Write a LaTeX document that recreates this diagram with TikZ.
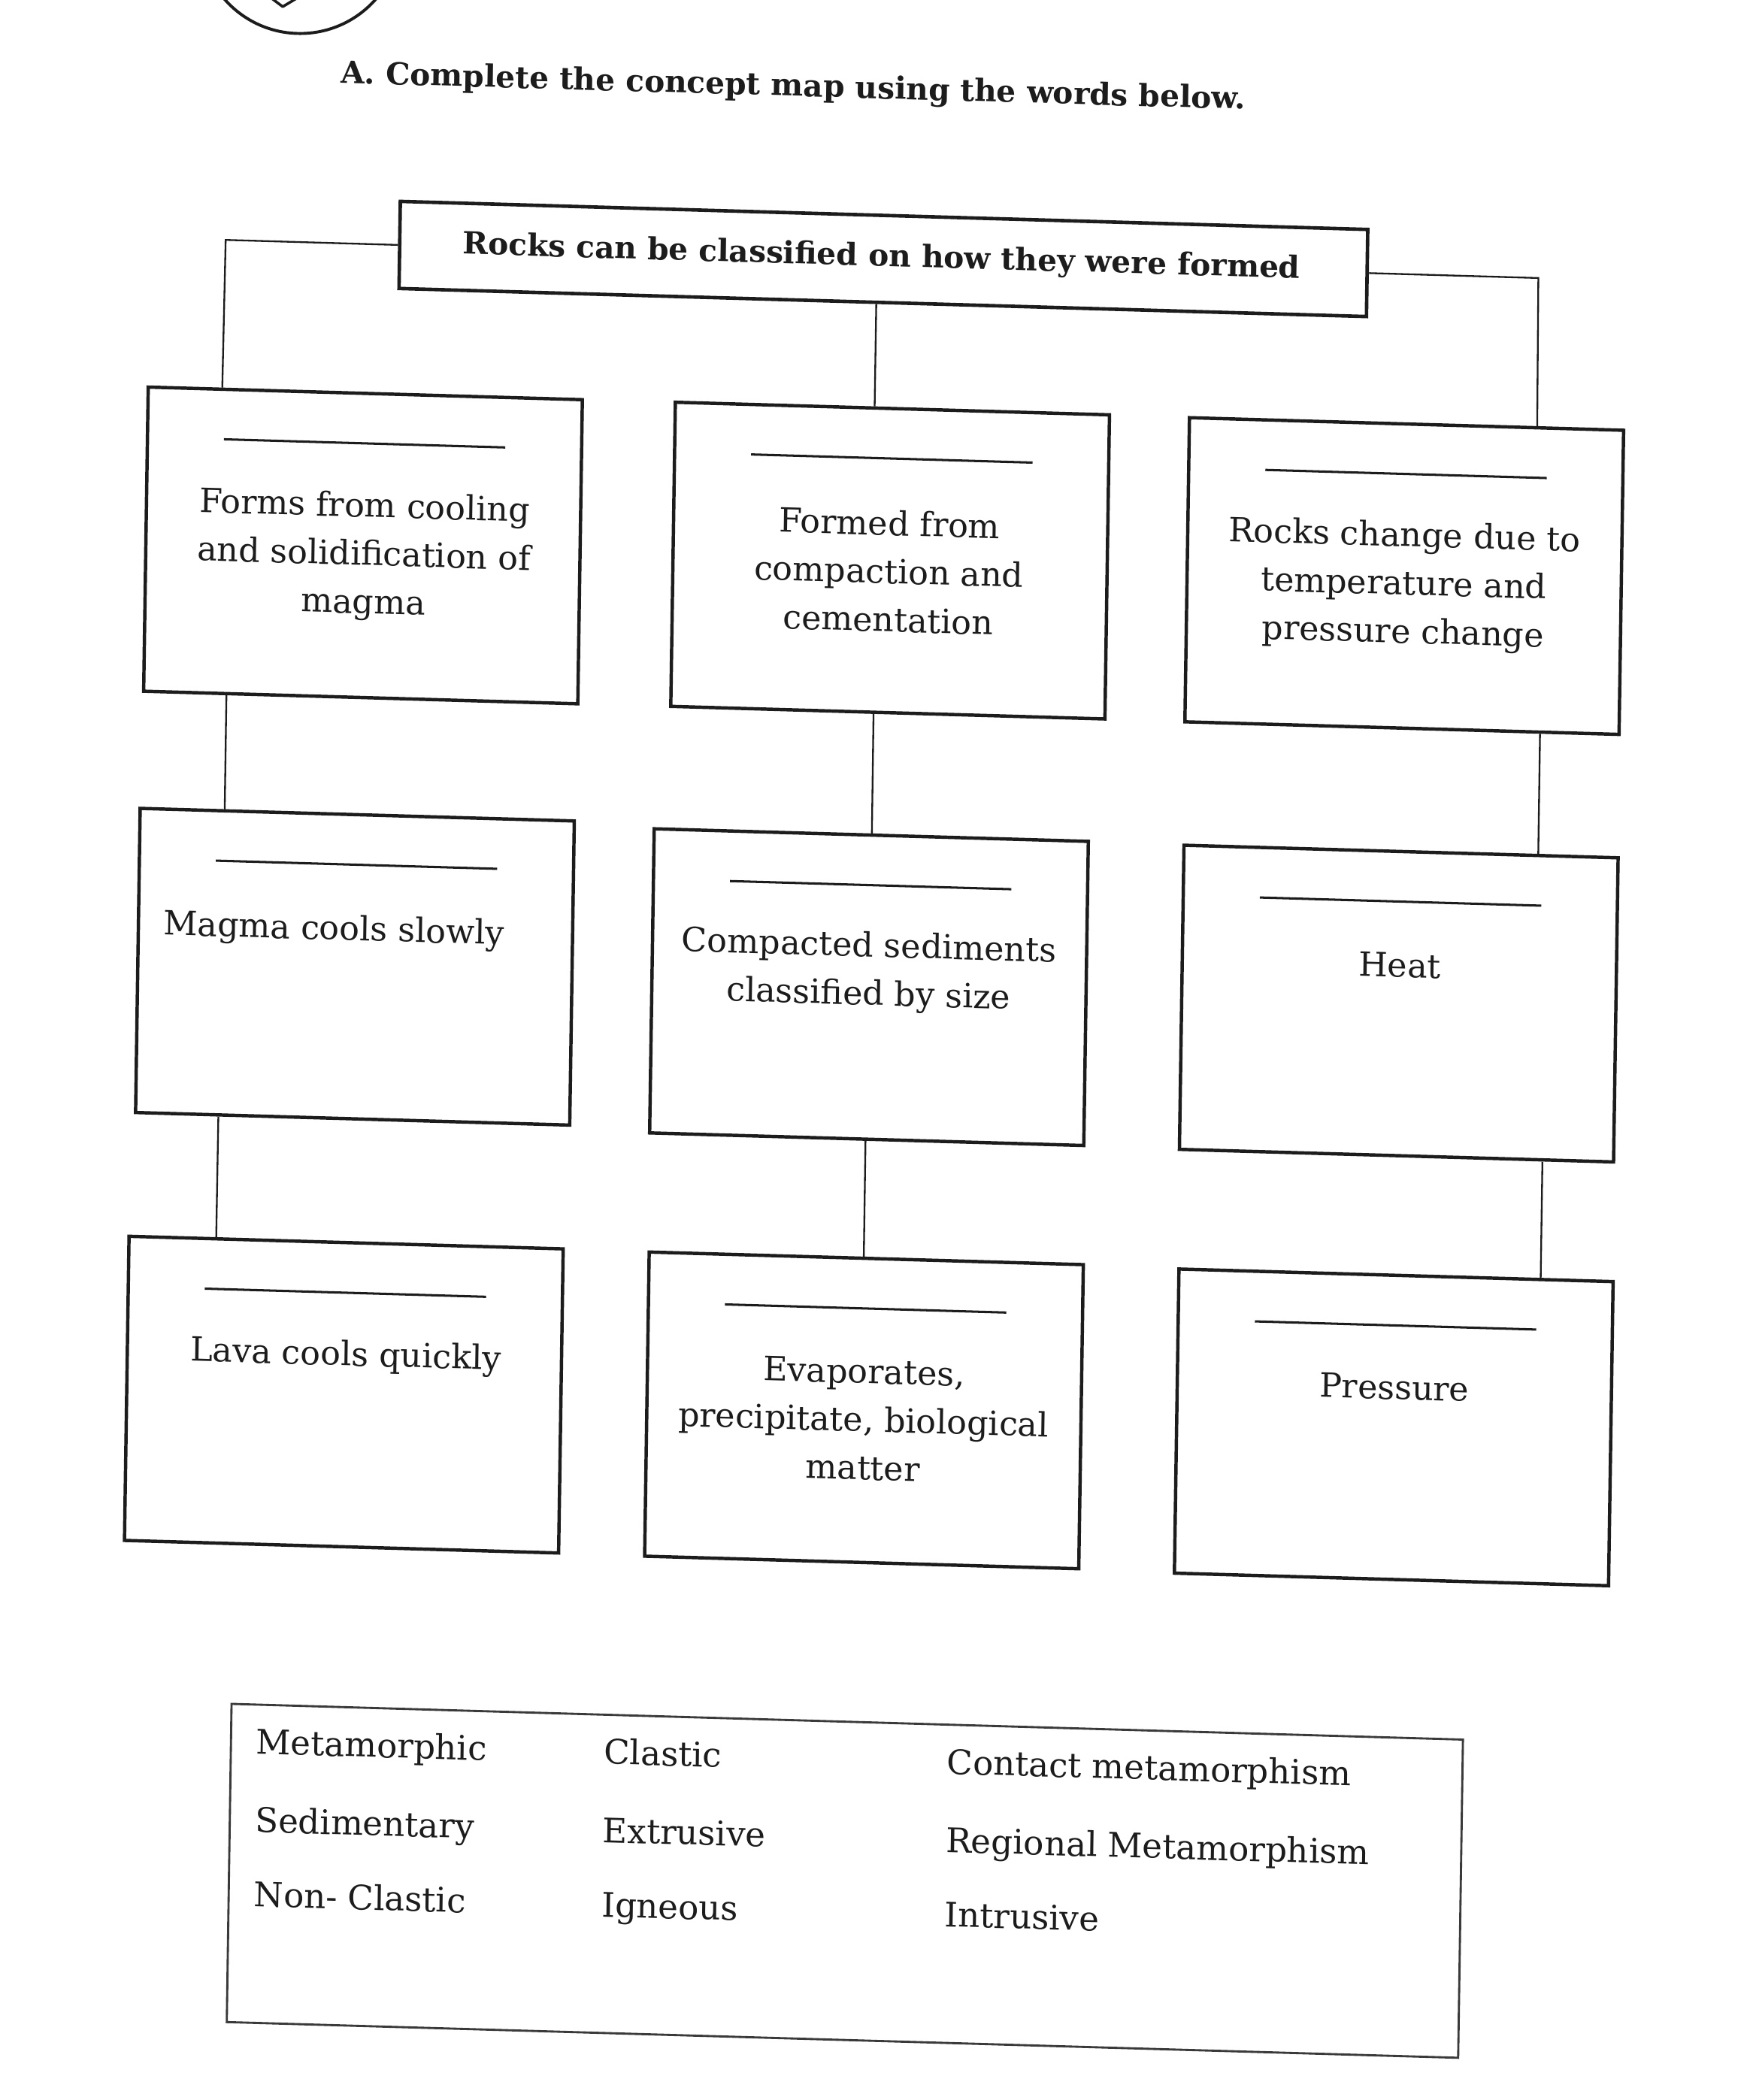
\documentclass[tikz,border=0pt]{standalone}
\usepackage{fontspec}
\setmainfont{DejaVu Serif}
\usetikzlibrary{calc}
\definecolor{ink}{HTML}{1C1C1C}
\definecolor{wordline}{HTML}{3A3A3A}
\begin{document}
\begin{tikzpicture}[x=1pt,y=1pt,
  cbox/.style={draw=ink,line width=2.5pt,minimum width=324pt,minimum height=227pt,inner sep=0pt},
  conn/.style={draw=ink,line width=1.3pt},
  blank/.style={draw=ink,line width=1.7pt},
  lbl/.style={text=ink,align=center,inner sep=0pt,font=\fontsize{24.9}{36}\selectfont},
  word/.style={text=ink,inner sep=0pt,anchor=base west,font=\fontsize{25.3}{30}\selectfont}]
\useasboundingbox (0,0) rectangle (1306,-1567.5);
\fill[white] (0,0) rectangle (1306,-1567.5);
% partial badge circle at the top
\draw[ink,line width=2.2pt] (224,50) circle (75);
\draw[ink,line width=2pt,line join=round] (203,1) -- (211,-5) -- (221,1);
\begin{scope}[cm={1,-0.029,0.015,1,(0,0)},transform shape]
\node[text=ink,anchor=base west,inner sep=0pt,font=\fontsize{22.8}{28}\selectfont\bfseries] (title) at (255,-54.5) {A. Complete the concept map using the words below.};
\node[draw=ink,line width=2.6pt,minimum width=722pt,minimum height=65pt,inner sep=0pt] (top) at (661.9,-174.1) {};
\node[text=ink,anchor=base,inner sep=0pt,font=\fontsize{22.8}{28}\selectfont\bfseries] (toptext) at (660.5,-179.5) {Rocks can be classified on how they were formed};
% boxes
\node[cbox] (b1) at (276.9,-399.1) {};
\node[cbox] (b2) at (670.3,-399.0) {};
\node[cbox] (b3) at (1054.0,-399.4) {};
\node[cbox] (b4) at (275.6,-713.6) {};
\node[cbox] (b5) at (659.3,-717.7) {};
\node[cbox] (b6) at (1054.7,-718.5) {};
\node[cbox] (b7) at (272.1,-1033.1) {};
\node[cbox] (b8) at (660.3,-1033.6) {};
\node[cbox] (b9) at (1055.7,-1034.8) {};
\foreach \b in {b1,b2,b3,b4,b5,b6,b7,b8,b9}
  \draw[blank] ($(\b.north)+(-105,-38.5)$) -- ($(\b.north)+(105,-38.5)$);
% texts
\node[lbl] (t1) at ($(b1.center)+(0.8,-8)$) {Forms from cooling\\and solidification of\\magma};
\node[lbl] (t2) at ($(b2.center)+(-0.9,-7.8)$) {Formed from\\compaction and\\cementation};
\node[lbl] (t3) at ($(b3.center)+(-0.4,-7.2)$) {Rocks change due to\\temperature and\\pressure change};
\node[lbl] (t4) at ($(b4.center)+(-16.2,26.4)$) {Magma cools slowly};
\node[lbl] (t5) at ($(b5.center)+(-0.4,11.5)$) {Compacted sediments\\classified by size};
\node[lbl] (t6) at ($(b6.center)+(0.1,28.8)$) {Heat};
\node[lbl] (t7) at ($(b7.center)+(1.1,28.6)$) {Lava cools quickly};
\node[lbl] (t8) at ($(b8.center)+(-0.4,-6.7)$) {Evaporates,\\precipitate, biological\\matter};
\node[lbl] (t9) at ($(b9.center)+(-0.2,30)$) {Pressure};
% connectors
\coordinate (cl) at (171,-174.1);
\coordinate (cr) at (1150.5,-174.1);
\draw[conn] (top.west) -- (cl) -- ($(b1.north west)!0.173!(b1.north east)$);
\draw[conn] (top.east) -- (cr) -- ($(b3.north west)!0.798!(b3.north east)$);
\draw[conn] ($(top.south west)!0.4932!(top.south east)$) -- ($(b2.north west)!0.459!(b2.north east)$);
\draw[conn] ($(b1.south west)!0.193!(b1.south east)$) -- ($(b4.north west)!0.197!(b4.north east)$);
\draw[conn] ($(b4.south west)!0.193!(b4.south east)$) -- ($(b7.north west)!0.203!(b7.north east)$);
\draw[conn] ($(b2.south west)!0.467!(b2.south east)$) -- ($(b5.north west)!0.501!(b5.north east)$);
\draw[conn] ($(b5.south west)!0.497!(b5.south east)$) -- ($(b8.north west)!0.494!(b8.north east)$);
\draw[conn] ($(b3.south west)!0.815!(b3.south east)$) -- ($(b6.north west)!0.813!(b6.north east)$);
\draw[conn] ($(b6.south west)!0.833!(b6.south east)$) -- ($(b9.north west)!0.830!(b9.north east)$);
% word bank
\node[draw=wordline,line width=1.6pt,minimum width=919pt,minimum height=237.5pt,inner sep=0pt] (words) at (651.3,-1385) {};
\node[word] (w1) at (210.5,-1303) {Metamorphic};
\node[word] (w2) at (210.5,-1361.5) {Sedimentary};
\node[word] (w3) at (210.5,-1417) {Non- Clastic};
\node[word] (w4) at (470,-1303) {Clastic};
\node[word] (w5) at (470,-1361.5) {Extrusive};
\node[word] (w6) at (470,-1417) {Igneous};
\node[word] (w7) at (726,-1303) {Contact metamorphism};
\node[word] (w8) at (726,-1361.5) {Regional Metamorphism};
\node[word] (w9) at (726,-1417) {Intrusive};
\end{scope}
\end{tikzpicture}
\end{document}
